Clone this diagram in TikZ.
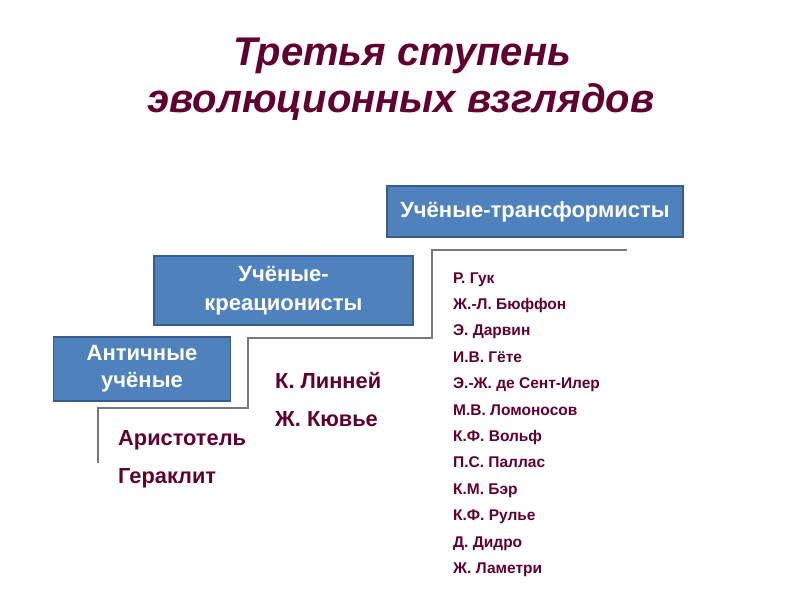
\documentclass[tikz,border=0pt]{standalone}
\usepackage{fontspec}
\setmainfont{Liberation Sans}
\definecolor{maroon}{RGB}{96,0,48}
\definecolor{boxfill}{RGB}{79,129,189}
\definecolor{boxline}{RGB}{56,93,138}
\definecolor{stairline}{RGB}{120,120,120}
\begin{document}
\begin{tikzpicture}[x=1pt,y=-1pt,
  titletext/.style={font=\fontsize{40}{47}\selectfont\bfseries\itshape, text=maroon, inner sep=0pt, anchor=base},
  stagebox/.style={draw=boxline, line width=1.2pt, fill=boxfill, text=white, font=\fontsize{22}{29}\selectfont\bfseries, align=center, inner sep=0pt},
  bigname/.style={font=\fontsize{21.8}{24}\selectfont\bfseries, text=maroon, inner sep=0pt, anchor=base west},
  smallname/.style={font=\fontsize{15.5}{17}\selectfont\bfseries, text=maroon, inner sep=0pt, anchor=base west},
  stair/.style={draw=stairline, line width=1.5pt}
]
\useasboundingbox (0,0) rectangle (800,600);
\fill[white] (0,0) rectangle (800,600);

\node[titletext] (t1) at (402,65) {Третья ступень};
\node[titletext] (t2) at (401,112) {эволюционных взглядов};

\node[stagebox, minimum width=296pt, minimum height=51pt] (b3) at (535,211.5) {Учёные-трансформисты};
\node[stagebox, minimum width=259pt, minimum height=69pt] (b2) at (283.5,290.5) {Учёные-\\креационисты};
\node[stagebox, minimum width=177pt, minimum height=64pt, font=\fontsize{22}{27}\selectfont\bfseries] (b1) at (142,369) {Античные\\учёные};

\coordinate (s0) at (98,463);
\coordinate (s1) at (98,408);
\coordinate (s2) at (248,408);
\coordinate (s3) at (248,338);
\coordinate (s4) at (432,338);
\coordinate (s5) at (432,250);
\coordinate (s6) at (627,250);
\draw[stair] (s0) -- (s1) -- (s2) -- (s3) -- (s4) -- (s5) -- (s6);

\node[bigname] (n1) at (118,445) {Аристотель};
\node[bigname] (n2) at (118,483) {Гераклит};
\node[bigname] (n3) at (275,388) {К. Линней};
\node[bigname] (n4) at (275,426) {Ж. Кювье};

\node[smallname] (m1) at (453,283) {Р. Гук};
\node[smallname] (m2) at (453,309.4) {Ж.-Л. Бюффон};
\node[smallname] (m3) at (453,335.8) {Э. Дарвин};
\node[smallname] (m4) at (453,362.2) {И.В. Гёте};
\node[smallname] (m5) at (453,388.6) {Э.-Ж. де Сент-Илер};
\node[smallname] (m6) at (453,415) {М.В. Ломоносов};
\node[smallname] (m7) at (453,441.4) {К.Ф. Вольф};
\node[smallname] (m8) at (453,467.8) {П.С. Паллас};
\node[smallname] (m9) at (453,494.2) {К.М. Бэр};
\node[smallname] (m10) at (453,520.6) {К.Ф. Рулье};
\node[smallname] (m11) at (453,547) {Д. Дидро};
\node[smallname] (m12) at (453,573.4) {Ж. Ламетри};
\end{tikzpicture}
\end{document}
